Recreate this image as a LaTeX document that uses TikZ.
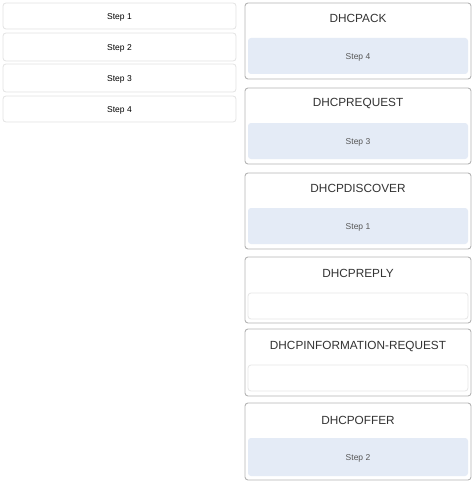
\documentclass[tikz,border=0pt]{standalone}
\usepackage{fontspec}
\setmainfont{Liberation Sans}
\definecolor{outerb}{HTML}{B4B4B4}
\definecolor{leftb}{HTML}{E2E2E2}
\definecolor{innerf}{HTML}{E4EBF6}
\definecolor{innerb}{HTML}{E6E6E6}
\definecolor{titlec}{HTML}{333333}
\definecolor{stepc}{HTML}{555555}
\begin{document}
\begin{tikzpicture}[x=1pt,y=-1pt,
  leftbox/.style={draw=leftb,line width=0.8pt,rounded corners=3pt,fill=white},
  outerbox/.style={draw=outerb,line width=0.9pt,rounded corners=3pt,fill=white},
  filledbox/.style={draw=none,fill=innerf,rounded corners=3pt},
  emptybox/.style={draw=innerb,line width=0.8pt,rounded corners=3pt,fill=white},
  ltext/.style={font=\fontsize{8.5}{10}\selectfont,text=black},
  ttext/.style={font=\fontsize{11.8}{13}\selectfont,text=titlec},
  stext/.style={font=\fontsize{8.5}{10}\selectfont,text=stepc}]
\useasboundingbox (0,0) rectangle (474,484);
% left items
\foreach \i/\a/\b in {1/3/29,2/33/61,3/64/92,4/96/122}{
  \draw[leftbox] (3,\a) rectangle (236,\b);
  \node[ltext] (l\i) at (119.5,{(\a+\b)/2+1}) {Step \i};
}
% right containers
\draw[outerbox] (245,3) rectangle (471,79);
\node[ttext] (t1) at (358,18) {DHCPACK};
\fill[filledbox] (248,38) rectangle (468,74);
\node[stext] (s1) at (358,57) {Step 4};

\draw[outerbox] (245,88) rectangle (471,164);
\node[ttext] (t2) at (358,103) {DHCPREQUEST};
\fill[filledbox] (248,123) rectangle (468,159);
\node[stext] (s2) at (358,142) {Step 3};

\draw[outerbox] (245,173) rectangle (471,249);
\node[ttext] (t3) at (358,188) {DHCPDISCOVER};
\fill[filledbox] (248,208) rectangle (468,244);
\node[stext] (s3) at (358,227) {Step 1};

\draw[outerbox] (245,257) rectangle (471,323);
\node[ttext] (t4) at (358,273) {DHCPREPLY};
\draw[emptybox] (248,293) rectangle (468,319);

\draw[outerbox] (245,329) rectangle (471,396);
\node[ttext] (t5) at (358,346) {DHCPINFORMATION-REQUEST};
\draw[emptybox] (248,365) rectangle (468,391);

\draw[outerbox] (245,403) rectangle (471,480);
\node[ttext] (t6) at (358,420) {DHCPOFFER};
\fill[filledbox] (248,438) rectangle (468,476);
\node[stext] (s6) at (358,458) {Step 2};
\end{tikzpicture}
\end{document}
